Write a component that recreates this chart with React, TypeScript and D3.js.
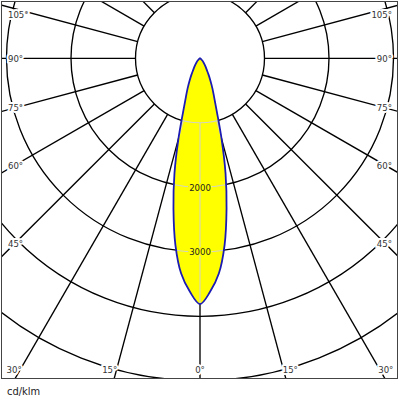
import React, { useMemo } from "react";
import * as d3 from "d3";

// polar luminous intensity, symmetric, angle from nadir (deg) -> cd/klm
const beamAngles = [0, 2.5, 5, 7.5, 10, 12.5, 15, 17.5, 20, 22.5, 25, 27.5, 30, 35, 40, 45, 50, 55, 60];
const beamValues = [3810, 3620, 3350, 2920, 2370, 1830, 1290, 870, 640, 500, 380, 290, 215, 135, 85, 50, 25, 10, 0];

const rings = [1000, 2000, 3000, 4000, 5000, 6000];
const ringLabels = [2000, 3000];
const spokes = [0, 15, 30, 45, 60, 75, 90, 105, 120, 135, 150, 165, 180];
const sideLabels = [105, 90, 75, 60, 45];
const bottomLabels = [30, 15, 0];
const unitLabel = "cd/klm";

const width = 400;
const height = 400;
const frame = { x: 1.5, y: 1.5, w: 396, h: 377 };
const cx = 200;
const cy = 58.3;
const font = "'DejaVu Sans Condensed', 'DejaVu Sans', sans-serif";

const rad = (a: number) => (a * Math.PI) / 180;
// a > 0 -> left side, 0 = straight down
const pt = (a: number, rr: number): [number, number] => [-rr * Math.sin(rad(a)), rr * Math.cos(rad(a))];

export default function App() {
    const r = useMemo(() => d3.scaleLinear().domain([0, 1000]).range([0, 64.5]), []);

    const beamPath = useMemo(() => {
        const pts: [number, number][] = [];
        for (let i = beamAngles.length - 1; i > 0; i--) pts.push([-beamAngles[i], beamValues[i]]);
        beamAngles.forEach((a, i) => pts.push([a, beamValues[i]]));
        const line = d3
            .lineRadial<[number, number]>()
            .angle((d) => Math.PI + rad(d[0]))
            .radius((d) => r(d[1]))
            .curve(d3.curveCatmullRom.alpha(0.5));
        return (line(pts) || "") + "Z";
    }, [r]);

    const allSpokes = useMemo(() => {
        const s: number[] = [];
        spokes.forEach((a) => {
            s.push(a);
            if (a !== 0 && a !== 180) s.push(-a);
        });
        return s;
    }, []);

    const grid = (stroke: string, sw: number) => (
        <g transform={`translate(${cx},${cy})`} fill="none" stroke={stroke} strokeWidth={sw}>
            {rings.map((v) => (
                <circle key={`c${v}`} r={r(v)} />
            ))}
            {allSpokes.map((a) => {
                const [x1, y1] = pt(a, r(1000));
                const [x2, y2] = pt(a, r(8000));
                return <line key={`s${a}`} x1={x1} y1={y1} x2={x2} y2={y2} />;
            })}
        </g>
    );

    // edge labels
    const labels: { x: number; y: number; t: string; anchor: string }[] = [];
    sideLabels.forEach((a) => {
        const t = (cx - 15) / Math.sin(rad(a));
        const y = Math.max(14, cy + t * Math.cos(rad(a)));
        labels.push({ x: 8, y, t: `${a}°`, anchor: "start" });
        labels.push({ x: width - 8, y, t: `${a}°`, anchor: "end" });
    });
    bottomLabels.forEach((a) => {
        const t = (367 - cy) / Math.cos(rad(a));
        const dx = t * Math.sin(rad(a));
        if (a === 0) {
            labels.push({ x: cx, y: 369, t: "0°", anchor: "middle" });
        } else {
            labels.push({ x: cx - dx, y: 369, t: `${a}°`, anchor: "end" });
            labels.push({ x: cx + dx, y: 369, t: `${a}°`, anchor: "start" });
        }
    });

    return (
        <svg
            width={width}
            height={height}
            style={{ position: "absolute", left: 0, top: 0, background: "#fff" }}
        >
            <defs>
                <clipPath id="frameClip">
                    <rect x={frame.x} y={frame.y} width={frame.w} height={frame.h} />
                </clipPath>
                <clipPath id="beamClip">
                    <path d={beamPath} transform={`translate(${cx},${cy})`} />
                </clipPath>
            </defs>
            <g clipPath="url(#frameClip)">
                {grid("#000", 1.35)}
                <path
                    d={beamPath}
                    transform={`translate(${cx},${cy})`}
                    fill="#ffff00"
                    stroke="none"
                />
                <g clipPath="url(#beamClip)">{grid("#d4d4c4", 1.1)}</g>
                <path
                    d={beamPath}
                    transform={`translate(${cx},${cy})`}
                    fill="none"
                    stroke="#1c1cb4"
                    strokeWidth={1.8}
                />
                {ringLabels.map((v) => (
                    <text
                        key={v}
                        x={cx}
                        y={cy + r(v)}
                        textAnchor="middle"
                        dominantBaseline="central"
                        fontFamily={font}
                        fontSize={9.5}
                        fill="#222"
                        stroke="#ffff00"
                        strokeWidth={3}
                        paintOrder="stroke"
                    >
                        {v}
                    </text>
                ))}
                {labels.map((l, i) => (
                    <text
                        // eslint-disable-next-line react/no-array-index-key
                        key={i}
                        x={l.x}
                        y={l.y}
                        textAnchor={l.anchor}
                        dominantBaseline="central"
                        fontFamily={font}
                        fontSize={9.5}
                        fill="#333"
                        stroke="#fff"
                        strokeWidth={4}
                        paintOrder="stroke"
                    >
                        {l.t}
                    </text>
                ))}
            </g>
            <rect
                x={frame.x}
                y={frame.y}
                width={frame.w}
                height={frame.h}
                fill="none"
                stroke="#444"
                strokeWidth={1}
            />
            <text x={7} y={395} fontFamily={font} fontSize={11} fill="#222">
                {unitLabel}
            </text>
        </svg>
    );
}
